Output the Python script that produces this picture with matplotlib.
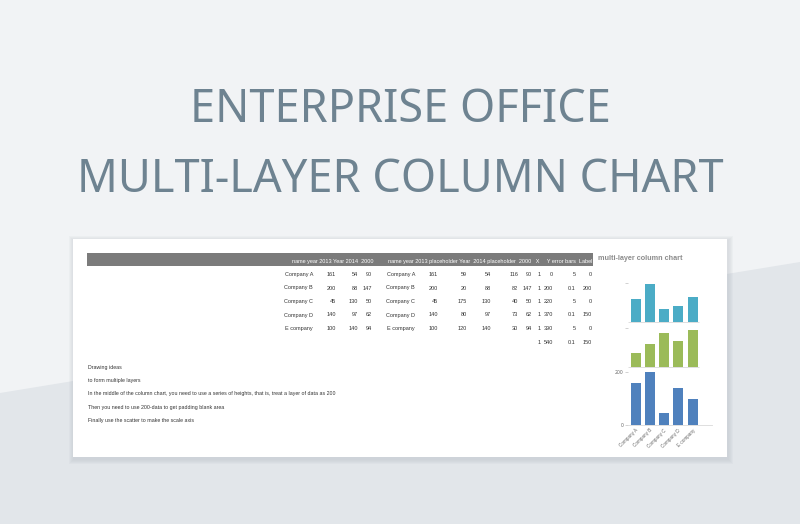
import numpy as np
import matplotlib
matplotlib.use("Agg")
import matplotlib.pyplot as plt
from matplotlib.patches import Rectangle, Polygon

companies = ["Company A", "Company B", "Company C", "Company D", "E company"]
year_2013 = [161, 200, 45, 140, 100]
year_2014 = [54, 88, 130, 97, 140]
year_2000 = [90, 147, 50, 62, 94]
placeholder_1 = [59, 20, 175, 80, 120]
placeholder_2 = [116, 82, 40, 73, 30]
scatter_x = [1, 1, 1, 1, 1, 1]
scatter_y = [0, 200, 220, 370, 390, 540]
error_bars = [5, 0.1, 5, 0.1, 5, 0.1]
scale_labels = [0, 200, 0, 150, 0, 150]

notes = [
    "Drawing ideas",
    "to form multiple layers",
    "In the middle of the column chart, you need to use a series of heights, that is, treat a layer of data as 200",
    "Then you need to use 200-data to get padding blank area",
    "Finally use the scatter to make the scale axis",
]

W, H = 800, 524
fig = plt.figure(figsize=(8, 5.24), dpi=100)
fig.patch.set_facecolor("#f1f3f5")

# full-size background axes in pixel units (y down)
bg = fig.add_axes([0, 0, 1, 1])
bg.set_xlim(0, W)
bg.set_ylim(H, 0)
bg.axis("off")

bg.add_patch(Polygon([[0, 393], [W, 262], [W, H], [0, H]], closed=True,
                     facecolor="#e2e6ea", edgecolor="none"))

title_col = "#6e8391"
bg.text(W / 2, 110, "ENTERPRISE OFFICE", ha="center", va="center",
        fontsize=32.5, color=title_col, family="Noto Sans", fontweight="light")
bg.text(W / 2, 180, "MULTI-LAYER COLUMN CHART", ha="center", va="center",
        fontsize=32.5, color=title_col, family="Noto Sans", fontweight="light")

# card with soft shadow
cx0, cy0, cx1, cy1 = 73, 239, 727, 457
for i, a in enumerate([0.05, 0.05, 0.05, 0.04, 0.03]):
    d = 5 - i
    bg.add_patch(Rectangle((cx0 - d + 1, cy0 - d + 2), cx1 - cx0 + 2 * d, cy1 - cy0 + 2 * d,
                           facecolor="#8a949e", alpha=a, edgecolor="none"))
bg.add_patch(Rectangle((cx0, cy0), cx1 - cx0, cy1 - cy0, facecolor="white", edgecolor="none"))

# header bar
bg.add_patch(Rectangle((87, 253), 593 - 87, 13, facecolor="#7b7b7b", edgecolor="none"))
fs = 4.0
fam = "Liberation Sans"
bg.text(373, 262, "name year 2013 Year 2014  2000", ha="right", va="center",
        fontsize=fs, color="white", family=fam)
bg.text(592, 262, "name year 2013 placeholder Year  2014 placeholder  2000   X     Y error bars  Label",
        ha="right", va="center", fontsize=fs, color="white", family=fam)

# table 1
rows_y = [274.5, 288, 301.5, 315, 328.5]
txt = "#333333"
for i, y in enumerate(rows_y):
    bg.text(313, y, companies[i], ha="right", va="center", fontsize=fs, color=txt, family=fam)
    bg.text(336, y, str(year_2013[i]), ha="right", va="center", fontsize=fs, color=txt, family=fam)
    bg.text(358, y, str(year_2014[i]), ha="right", va="center", fontsize=fs, color=txt, family=fam)
    bg.text(372, y, str(year_2000[i]), ha="right", va="center", fontsize=fs, color=txt, family=fam)

# table 2
cols2 = [year_2013, placeholder_1, year_2014, placeholder_2, year_2000]
right2 = [438, 467, 491, 518, 532]
for i, y in enumerate(rows_y):
    bg.text(415, y, companies[i], ha="right", va="center", fontsize=fs, color=txt, family=fam)
    for col, r in zip(cols2, right2):
        bg.text(r, y, str(col[i]), ha="right", va="center", fontsize=fs, color=txt, family=fam)
rows2_y = rows_y + [342]
for i, y in enumerate(rows2_y):
    bg.text(541, y, str(scatter_x[i]), ha="right", va="center", fontsize=fs, color=txt, family=fam)
    bg.text(553, y, str(scatter_y[i]), ha="right", va="center", fontsize=fs, color=txt, family=fam)
    bg.text(576, y, f"{error_bars[i]:g}", ha="right", va="center", fontsize=fs, color=txt, family=fam)
    bg.text(592, y, str(scale_labels[i]), ha="right", va="center", fontsize=fs, color=txt, family=fam)

# notes
for i, line in enumerate(notes):
    bg.text(88, 367.5 + i * 13.2, line, ha="left", va="center", fontsize=3.8, color=txt, family=fam)

bg.text(598, 259, "multi-layer column chart", ha="left", va="center",
        fontsize=5.2, color="#8c8c8c", family=fam, fontweight="bold")

# the multi-layer column chart
left, right, base, top = 628, 712, 425, 280
ax = fig.add_axes([left / W, 1 - base / H, (right - left) / W, (base - top) / H])
ax.set_facecolor("none")
px_per_unit = 52.7 / 200
ax.set_ylim(0, (base - top) / px_per_unit)
ax.set_xlim(-0.54, 5.37)

x = np.arange(len(companies))
b2013 = np.zeros(len(companies))
b2014 = b2013 + np.array(year_2013) + np.array(placeholder_1)
b2000 = b2014 + np.array(year_2014) + np.array(placeholder_2)
ax.bar(x, year_2013, 0.7, bottom=b2013, color="#4f81bd")
ax.bar(x, year_2014, 0.7, bottom=b2014, color="#9bbb59")
ax.bar(x, year_2000, 0.7, bottom=b2000, color="#4bacc6")
for b in [b2014[0], b2000[0]]:
    ax.hlines(b, -0.55, 4.45, color="#d9d9d9", lw=0.6)

for s in ["top", "right", "left"]:
    ax.spines[s].set_visible(False)
ax.spines["bottom"].set_color("#d9d9d9")
ax.spines["bottom"].set_linewidth(0.6)

ax.set_yticks([0, 200, 370, 540])
ax.set_yticklabels(["0", "200", "", ""])
ax.tick_params(axis="y", length=2, width=0.5, color="#bfbfbf", labelsize=3.3,
               labelcolor="#666666", pad=1)
ax.set_xticks(x)
ax.set_xticklabels(companies, rotation=45, ha="right", rotation_mode="anchor",
                   fontsize=3.3, color="#666666", family=fam)
ax.tick_params(axis="x", length=0, pad=2)

fig.savefig("out.png", dpi=100)
